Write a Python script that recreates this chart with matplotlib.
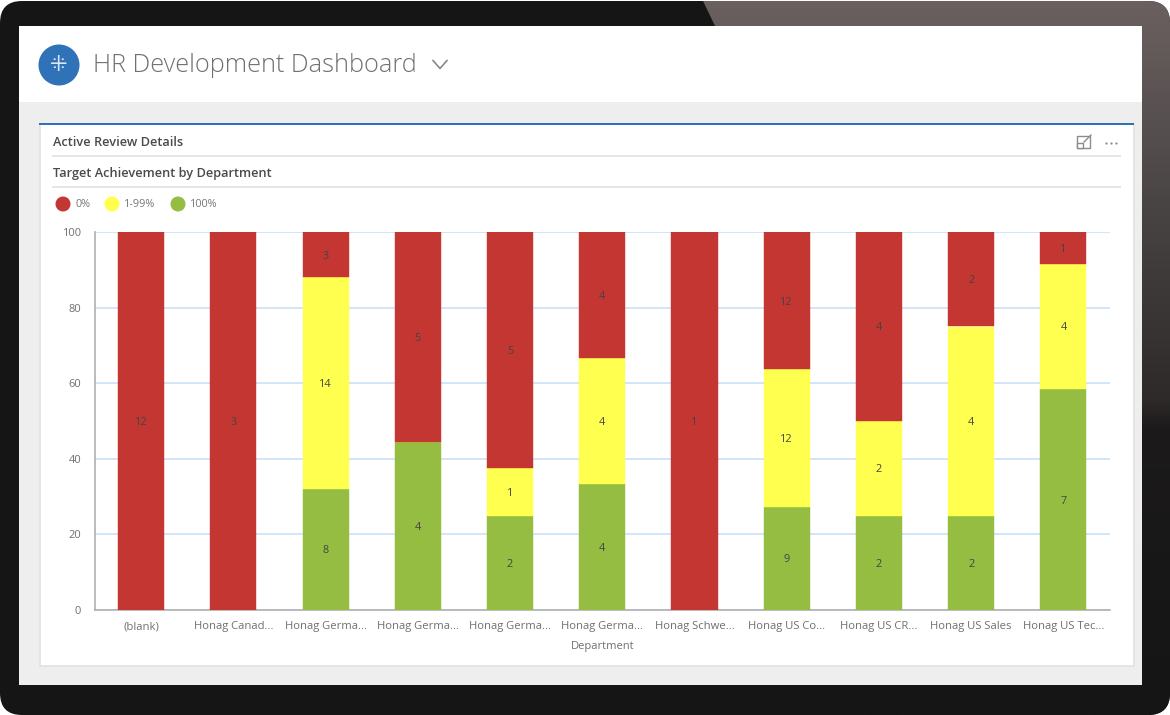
# %%
from matplotlib import pyplot as plt
from matplotlib.patches import Circle, FancyBboxPatch, Polygon, Rectangle
from matplotlib.colors import LinearSegmentedColormap
import numpy as np

plt.rcParams['font.family'] = ['Open Sans', 'DejaVu Sans']

departments = ['(blank)', 'Honag Canad...', 'Honag Germa...', 'Honag Germa...', 'Honag Germa...',
	'Honag Germa...', 'Honag Schwe...', 'Honag US Co...', 'Honag US CR...', 'Honag US Sales', 'Honag US Tec...']
# review counts, the bars are the share of each department
count_100 = [0, 0, 8, 4, 2, 4, 0, 9, 2, 2, 7]
count_1_99 = [0, 0, 14, 0, 1, 4, 0, 12, 2, 4, 4]
count_0 = [12, 3, 3, 5, 5, 4, 1, 12, 4, 2, 1]
legend_names = ['0%', '1-99%', '100%']
yticks = [0, 20, 40, 60, 80, 100]

RED = '#c43632'
YELLOW = '#ffff4f'
GREEN = '#95bd41'
W, H = 1170, 715

# %%
fig = plt.figure(figsize=(W/100, H/100), dpi=100, facecolor='white')

# page furniture, drawn in pixel coordinates
bg = fig.add_axes([0, 0, 1, 1], zorder=0)
bg.axis('off')

bg.add_patch(FancyBboxPatch((0, 1), W, H-1, boxstyle='round,pad=0,rounding_size=22', fc='#151515', ec='none'))

shade = LinearSegmentedColormap.from_list('shade', [(0, '#6b6060'), (0.28, '#4a4545'), (0.56, '#2e2a2a'), (0.6, '#1c1a1a'), (1, '#151515')])
grad = bg.imshow(np.linspace(0, 1, 256).reshape(-1, 1), extent=(0, W, H, 0), aspect='auto', cmap=shade, zorder=1)
clip = FancyBboxPatch((640, 1), W-640, H-1, boxstyle='round,pad=0,rounding_size=22', fc='none', ec='none')
bg.add_patch(clip)
grad.set_clip_path(clip)
# black part left of the slanted edge of the sheen
bg.add_patch(Polygon([(630, 1), (703, 1), (715, 26), (630, 26)], fc='#151515', ec='none', zorder=2))
bg.set_xlim(0, W)
bg.set_ylim(H, 0)

# screen and card
bg.add_patch(Rectangle((19, 26), 1123, 659, fc='#eeeeee', ec='none', zorder=3))
bg.add_patch(Rectangle((19, 26), 1123, 76, fc='white', ec='none', zorder=3))
bg.add_patch(Rectangle((39.5, 124), 1094.5, 542, fc='white', ec='#e2e2e2', lw=1.2, zorder=3))
bg.add_patch(Rectangle((39, 123), 1095, 2.2, fc='#2f72b8', ec='none', zorder=4))
bg.plot([53, 1120], [156, 156], color='#e6e6e6', lw=1.4, zorder=4)
bg.plot([53, 1120], [187, 187], color='#e6e6e6', lw=1.4, zorder=4)

# header
bg.add_patch(Circle((59, 65), 20.5, fc='#2f72b8', ec='none', zorder=4))
bg.text(59, 65, '⁜', color='#dce8f4', fontsize=15, ha='center', va='center', zorder=5, family=['DejaVu Sans'])
bg.text(93, 66, 'HR Development Dashboard', color='#707070', fontsize=18.2, fontweight='light', va='center', zorder=5)
bg.plot([433, 440, 447], [60.5, 68.5, 60.5], color='#808080', lw=1.1, zorder=5)

# card titles
bg.text(53, 142.5, 'Active Review Details', color='#4a4a4a', fontsize=9.2, fontweight='semibold', va='center', zorder=5)
bg.text(53, 173.5, 'Target Achievement by Department', color='#4a4a4a', fontsize=9.2, fontweight='semibold', va='center', zorder=5)

# expand icon and dots
bg.add_patch(Rectangle((1077, 136), 13, 12, fc='none', ec='#8c8c8c', lw=1, zorder=5))
bg.add_patch(Rectangle((1077, 143), 6, 5, fc='white', ec='#8c8c8c', lw=1, zorder=5))
bg.plot([1084, 1091], [142, 135], color='#8c8c8c', lw=1, zorder=6)
bg.plot([1106, 1111, 1116], [142.5, 142.5, 142.5], ls='none', marker='o', ms=1.6, color='#8c8c8c', mew=0, zorder=5)

# legend
for cx, tx, col, name in zip([63, 112, 178], [75, 124, 190], [RED, YELLOW, GREEN], legend_names):
	bg.add_patch(Circle((cx, 204), 7.5, fc=col, ec='none', zorder=5))
	bg.text(tx, 204.5, name, color='#777777', fontsize=7.8, va='center', zorder=5)

# %%
ax = fig.add_axes([95/W, 1-610/H, (1109.5-95)/W, (610-232)/H], zorder=2)
ax.patch.set_alpha(0)

c0 = np.array(count_0, dtype=float)
c1 = np.array(count_1_99, dtype=float)
c2 = np.array(count_100, dtype=float)
total = c0 + c1 + c2
x = np.arange(len(departments))
bottom = np.zeros(len(departments))
for counts, col in zip([c2, c1, c0], [GREEN, YELLOW, RED]):
	share = counts/total*100
	ax.bar(x, share, width=0.5, bottom=bottom, color=col, edgecolor=col, lw=0.3, zorder=3)
	for i in x:
		if counts[i] > 0:
			ax.annotate(f'{int(counts[i])}', (i, bottom[i]+share[i]/2), xytext=(0, -1), textcoords='offset points',
				ha='center', va='center', color='#444444', fontsize=7.8, zorder=4)
	bottom += share

ax.set_xlim(-0.5, len(departments)-0.5)
ax.set_ylim(0, 100)
ax.set_yticks(yticks)
ax.set_xticks(x, departments)
ax.tick_params(length=0)
ax.tick_params(axis='x', labelsize=8.1, labelcolor='#707070', pad=8.2)
ax.tick_params(axis='y', labelsize=8, labelcolor='#707070', pad=10)
ax.grid(axis='y', color='#cfe3f9', lw=1.3, zorder=0)
ax.set_axisbelow(True)
ax.set_xlabel('Department', fontsize=8, color='#707070', labelpad=6)
for side in ['top', 'right']:
	ax.spines[side].set_visible(False)
for side in ['left', 'bottom']:
	ax.spines[side].set_color('#b0b0b0')
	ax.spines[side].set_linewidth(1.2)

fig.savefig('out.png', dpi=100)
